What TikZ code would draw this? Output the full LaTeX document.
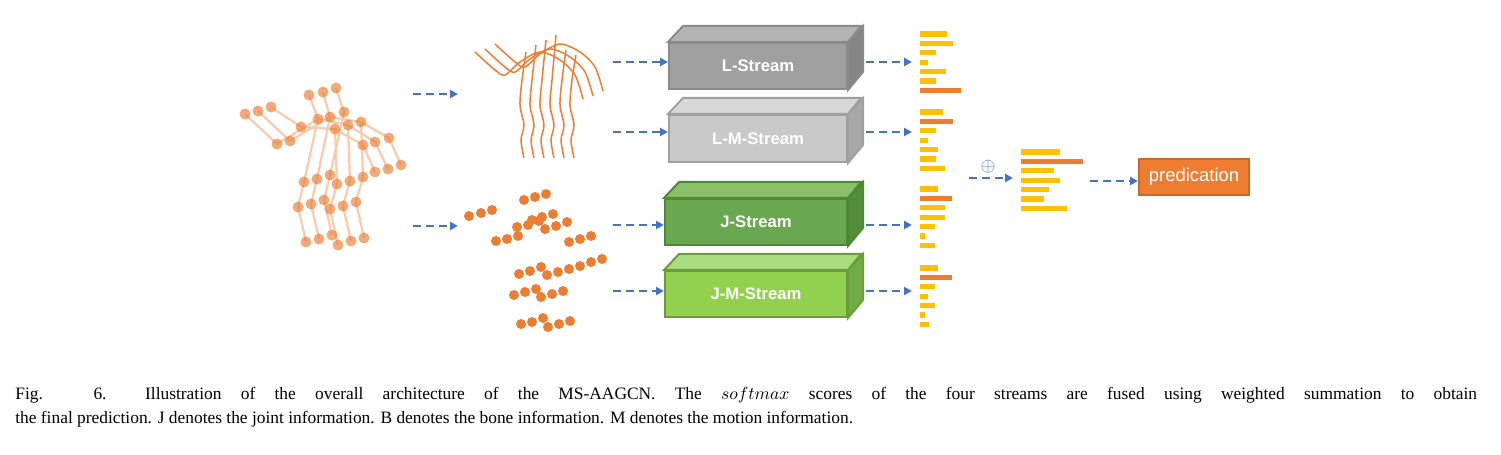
\documentclass[tikz,border=0pt]{standalone}
\usepackage{fontspec}
\setmainfont{Liberation Serif}
\newfontfamily\sansf{Liberation Sans}
\usetikzlibrary{arrows.meta}
\definecolor{arblue}{HTML}{4472C4}
\definecolor{dotor}{HTML}{ED7D31}
\definecolor{lineor}{HTML}{F8CBAD}
\definecolor{baryl}{HTML}{FFC000}
\definecolor{lF}{HTML}{A0A0A0}\definecolor{lT}{HTML}{B4B4B4}\definecolor{lS}{HTML}{858585}\definecolor{lB}{HTML}{8A8A8A}
\definecolor{lmF}{HTML}{C9C9C9}\definecolor{lmT}{HTML}{D8D8D8}\definecolor{lmS}{HTML}{A8A8A8}\definecolor{lmB}{HTML}{A0A0A0}
\definecolor{jF}{HTML}{6AA84F}\definecolor{jT}{HTML}{8BBF6A}\definecolor{jS}{HTML}{548C3A}\definecolor{jB}{HTML}{4E8A34}
\definecolor{jmF}{HTML}{92D050}\definecolor{jmT}{HTML}{A9DC7E}\definecolor{jmS}{HTML}{70AD47}\definecolor{jmB}{HTML}{6B9E3A}
\definecolor{pB}{HTML}{C86A2A}
\begin{document}
\begin{tikzpicture}[x=0.02cm,y=-0.02cm,
  arr/.style={arblue,line width=2.6*0.02cm,dash pattern=on 8*0.02cm off 5*0.02cm,-{Triangle[length=8*0.02cm,width=8*0.02cm]}},
  sdot/.style={circle,fill=dotor,fill opacity=0.65,inner sep=0,minimum size=11*0.02cm},
  mdot/.style={circle,fill=dotor,inner sep=0,minimum size=10*0.02cm},
  bar/.style={fill=baryl,draw=none},
  obar/.style={fill=dotor,draw=none},
  lbl/.style={font=\sansf\bfseries\fontsize{9.5}{11}\selectfont,text=white}]
\useasboundingbox (0,0) rectangle (1501,455);
% stream boxes
\newcommand\streambox[9]{%
  \node[draw=#8,line width=0.04cm,fill=#5,minimum width={(#3-#1)*0.02cm},minimum height={(#4-#2)*0.02cm},inner sep=0,anchor=north west] (#9) at (#1,#2) {};
  \filldraw[draw=#8,line width=0.04cm,fill=#6] (#9.north west) -- ++(15,-16) -- ++(#3-#1,0) -- (#9.north east) -- cycle;
  \filldraw[draw=#8,line width=0.04cm,fill=#7] (#9.north east) -- ++(15,-16) -- ++(0,#4-#2) -- (#9.south east) -- cycle;}
\streambox{668}{42}{846}{88}{lF}{lT}{lS}{lB}{L}
\node[lbl] at (L) {L-Stream};
\streambox{668}{114}{846}{161}{lmF}{lmT}{lmS}{lmB}{LM}
\node[lbl] at (LM) {L-M-Stream};
\streambox{664}{198}{846}{244}{jF}{jT}{jS}{jB}{J}
\node[lbl] at (J) {J-Stream};
\streambox{664}{270}{846}{316}{jmF}{jmT}{jmS}{jmB}{JM}
\node[lbl] at (JM) {J-M-Stream};
% skeleton lines
\begin{scope}[lineor,line width=2.2*0.02cm]
\draw (245,114)--(277,144); \draw (258,111)--(290,141); \draw (271,107)--(301,127);
\draw (309,95)--(318,119)--(304,182)--(298,207)--(306,242);
\draw (323,92)--(330,117)--(317,179)--(311,204)--(319,239);
\draw (336,88)--(344,112)--(330,175)--(324,200)--(332,235);
\draw (301,127)--(335,129)--(363,145)--(375,172);
\draw (318,119)--(348,125)--(375,142)--(388,169);
\draw (330,117)--(361,122)--(389,138)--(401,165);
\draw (335,129)--(337,184)--(330,209)--(338,245);
\draw (348,125)--(350,181)--(343,206)--(351,241);
\draw (361,122)--(363,177)--(356,202)--(364,238);
\draw (277,144)--(318,119); \draw (290,141)--(330,117);
\end{scope}
\foreach \p [count=\i] in {(245,114),(258,111),(271,107),(309,95),(323,92),(336,88),(277,144),(290,141),(301,127),(318,119),(330,117),(344,112),(335,129),(348,125),(361,122),(363,145),(375,142),(389,138),(375,172),(388,169),(401,165),(304,182),(317,179),(330,175),(337,184),(350,181),(363,177),(298,207),(311,204),(324,200),(330,209),(343,206),(356,202),(306,242),(319,239),(332,235),(338,245),(351,241),(364,238)}
  \node[sdot] (s\i) at \p {};
% trajectories
\begin{scope}[dotor,line width=0.03cm]
\foreach \dx/\top in {0/52,10/45,20/40,30/35,40/50,50/55}{
  \draw plot[smooth] coordinates {(526+\dx,\top) (522+\dx,80) (520+\dx,105) (524+\dx,125) (521+\dx,140) (524+\dx,158)};}
\foreach \dx/\dy in {0/0,10/-3,20/-8}{
  \draw plot[smooth] coordinates {(475+\dx,52+\dy) (495+\dx,70+\dy) (505+\dx,75+\dy) (520+\dx,62+\dy) (540+\dx,52+\dy) (560+\dx,60+\dy) (575+\dx,75+\dy) (583+\dx,99+\dy)};}
\end{scope}
% motion dots
\foreach \p [count=\i] in {(469,216),(481,213),(492,210),(524,200),(535,197),(546,194),(496,241),(507,239),(518,236),(517,227),(528,225),(532,220),(539,221),(542,217),(553,214),(545,229),(556,226),(567,222),(569,242),(580,239),(591,236),(519,274),(530,271),(541,267),(547,275),(558,272),(569,269),(580,266),(591,262),(602,259),(514,295),(525,292),(536,289),(541,297),(552,294),(563,291),(521,324),(532,322),(543,318),(548,327),(559,324),(570,321)}
  \node[mdot] (m\i) at \p {};
% bars
\newcommand\bars[9]{% x y0 w1..w7
  \foreach \w [count=\k] in {#3,#4,#5,#6,#7,#8,#9}{
    \fill[bar] (#1,{#2+(\k-1)*9.4-2.6}) rectangle ++(\w,5.2);}}
\bars{920}{34}{27}{33}{16}{8}{26}{16}{0}
\fill[obar] (920,{34+6*9.4-2.6}) rectangle ++(41,5.2);
\bars{920}{112}{23}{0}{16}{8}{18}{16}{25}
\fill[obar] (920,{112+9.4-2.6}) rectangle ++(33,5.2);
\bars{920}{189}{18}{0}{25}{25}{15}{5}{15}
\fill[obar] (920,{189+9.4-2.6}) rectangle ++(32,5.2);
\bars{920}{268}{18}{0}{15}{8}{15}{5}{9}
\fill[obar] (920,{268+9.4-2.6}) rectangle ++(32,5.2);
\bars{1021}{152}{39}{0}{33}{39}{28}{23}{46}
\fill[obar] (1021,{152+9.4-2.6}) rectangle ++(62,5.2);
% prediction
\node[draw=pB,line width=0.04cm,fill=dotor,minimum width=110*0.02cm,minimum height=36*0.02cm,inner sep=0,text=white,font=\sansf\fontsize{10.5}{12}\selectfont] (P) at (1194,177) {predication};
\node[arblue,font=\fontsize{11}{12}\selectfont] (plus) at (988,167) {$\oplus$};
% arrows
\coordinate (a1s) at (413,94); \coordinate (a1e) at (458,94);
\coordinate (a2s) at (413,226); \coordinate (a2e) at (458,226);
\draw[arr] (a1s)--(a1e); \draw[arr] (a2s)--(a2e);
\foreach \n/\y in {L/62,LM/132,J/225,JM/291}{
  \coordinate (i\n) at (613,\y); \coordinate (o\n) at (912,\y); \coordinate (r\n) at (866,\y);
  \draw[arr] (i\n) -- (\n.west |- i\n);
  \draw[arr] (r\n) -- (o\n);}
\coordinate (fs) at (969,178); \coordinate (fe) at (1013,178);
\draw[arr] (fs)--(fe);
\coordinate (ps) at (1090,181);
\draw[arr] (ps)--(P.west |- ps);
% caption
\node[anchor=west,font=\fontsize{9.9}{12}\selectfont,inner sep=0] (c1) at (15,395) {\makebox[29.24cm][s]{Fig. 6.\ \ Illustration of the overall architecture of the MS-AAGCN. The $softmax$ scores of the four streams are fused using weighted summation to obtain}};
\node[anchor=west,font=\fontsize{9.9}{12}\selectfont,inner sep=0] (c2) at (15,419) {the final prediction. J denotes the joint information. B denotes the bone information. M denotes the motion information.};
\end{tikzpicture}
\end{document}
